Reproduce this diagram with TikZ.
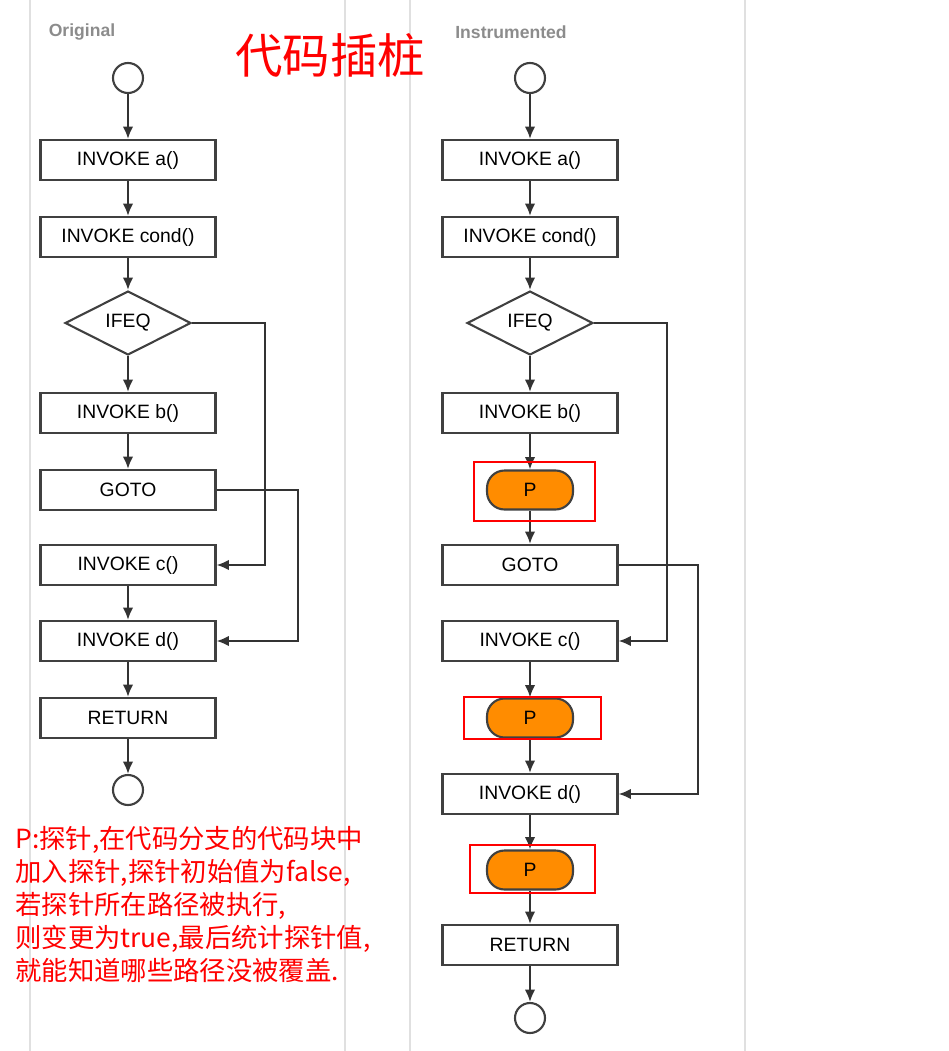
\documentclass[tikz,border=0pt]{standalone}
\usepackage{fontspec}
\setmainfont{Liberation Sans}
\newfontfamily\cjk{Noto Sans CJK SC}
\usetikzlibrary{shapes.geometric,arrows.meta}
\begin{document}
\begin{tikzpicture}[x=0.02cm, y=-0.02cm,
  box/.style={draw=black!75, line width=1.2pt, minimum width=3.5cm, minimum height=0.8cm, font=\fontsize{11}{12}\selectfont},
  cond/.style={draw=black!75, line width=1.2pt, diamond, aspect=2, minimum width=2.52cm, minimum height=1.28cm, inner sep=0pt, font=\fontsize{11}{12}\selectfont},
  term/.style={draw=black!75, line width=1.2pt, circle, minimum size=0.6cm, inner sep=0pt},
  probe/.style={draw=black!75, line width=1.2pt, fill=orange!90!yellow, rounded corners=0.35cm, minimum width=1.72cm, minimum height=0.78cm, font=\fontsize{11}{12}\selectfont},
  probebox/.style={draw=red, line width=0.6pt},
  flow/.style={-{Latex[length=7pt,width=6pt]}, line width=1.2pt, black!80},
  panel/.style={draw=black!12, line width=1pt}]

\useasboundingbox (0,0) rectangle (948,1051);

% panels
\draw[panel] (30,0)--(30,1051);
\draw[panel] (345,0)--(345,1051);
\draw[panel] (410,0)--(410,1051);
\draw[panel] (745,0)--(745,1051);

\node[text=black!45, font=\bfseries\fontsize{10}{12}\selectfont] (tOrig) at (82,32) {Original};
\node[text=black!45, font=\bfseries\fontsize{10}{12}\selectfont] (tInst) at (511,32) {Instrumented};
\node[text=red, font=\cjk\fontsize{27}{30}\selectfont] (title) at (330,55) {代码插桩};

% original
\node[term] (os) at (128,78) {};
\node[box] (oa) at (128,160) {INVOKE a()};
\node[box] (ocond) at (128,237) {INVOKE cond()};
\node[cond] (oif) at (128,323) {IFEQ};
\node[box] (ob) at (128,413) {INVOKE b()};
\node[box] (ogoto) at (128,490) {GOTO};
\node[box] (oc) at (128,565) {INVOKE c()};
\node[box] (od) at (128,641) {INVOKE d()};
\node[box] (oret) at (128,718) {RETURN};
\node[term] (oe) at (128,790) {};

\draw[flow] (os)--(oa);
\draw[flow] (oa)--(ocond);
\draw[flow] (ocond)--(oif);
\draw[flow] (oif)--(ob);
\draw[flow] (ob)--(ogoto);
\draw[flow] (oc)--(od);
\draw[flow] (od)--(oret);
\draw[flow] (oret)--(oe);
\draw[flow] (oif.east)-|(265,565)--(oc.east);
\draw[flow] (ogoto.east)-|(298,641)--(od.east);

% instrumented
\node[term] (is) at (530,78) {};
\node[box] (ia) at (530,160) {INVOKE a()};
\node[box] (icond) at (530,237) {INVOKE cond()};
\node[cond] (iif) at (530,323) {IFEQ};
\node[box] (ib) at (530,413) {INVOKE b()};
\node[probe] (p1) at (530,490) {P};
\node[box] (igoto) at (530,565) {GOTO};
\node[box] (ic) at (530,641) {INVOKE c()};
\node[probe] (p2) at (530,718) {P};
\node[box] (id) at (530,794) {INVOKE d()};
\node[probe] (p3) at (530,870) {P};
\node[box] (iret) at (530,945) {RETURN};
\node[term] (ie) at (530,1018) {};

\draw[flow] (is)--(ia);
\draw[flow] (ia)--(icond);
\draw[flow] (icond)--(iif);
\draw[flow] (iif)--(ib);
\draw[flow] (ib)--(p1);
\draw[flow] (p1)--(igoto);
\draw[flow] (ic)--(p2);
\draw[flow] (p2)--(id);
\draw[flow] (id)--(p3);
\draw[flow] (p3)--(iret);
\draw[flow] (iret)--(ie);
\draw[flow] (iif.east)-|(667,641)--(ic.east);
\draw[flow] (igoto.east)-|(698,794)--(id.east);

\draw[probebox] (474,462) rectangle (595,521);
\draw[probebox] (464,697) rectangle (601,739);
\draw[probebox] (470,845) rectangle (595,893);

% note
\node[text=red, anchor=north west, align=left, inner sep=0pt, font=\cjk\fontsize{15}{18.8}\selectfont] (note) at (15,826)
  {P:探针,在代码分支的代码块中\\加入探针,探针初始值为false,\\若探针所在路径被执行,\\则变更为true,最后统计探针值,\\就能知道哪些路径没被覆盖.};

\end{tikzpicture}
\end{document}
